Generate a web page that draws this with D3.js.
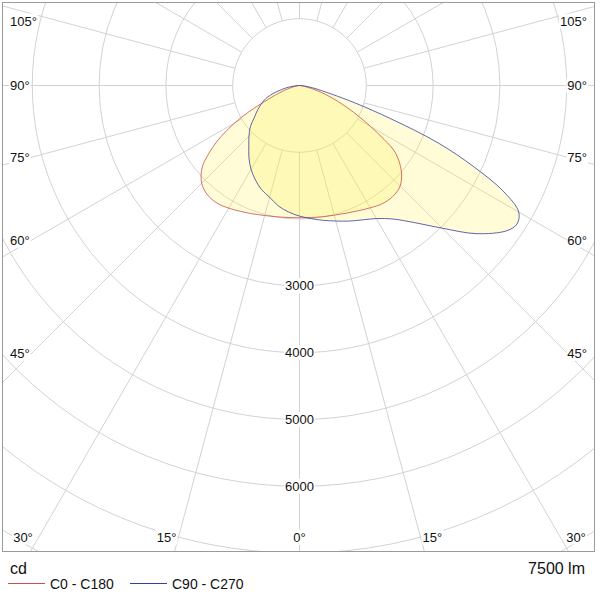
<!DOCTYPE html>
<html><head><meta charset="utf-8">
<script src="https://cdn.jsdelivr.net/npm/d3@7"></script>
<style>html,body{margin:0;padding:0;background:#fff;}svg{display:block;font-family:"Liberation Sans",Arial,sans-serif;}</style>
</head><body><svg id="c" width="600" height="597"></svg>
<script>
// ---- data ----
const gammas = [0,5,10,15,20,25,30,35,40,45,50,55,57.5,60,62.5,65,67.5,70,72.5,75,80,85,90];
const c0   = [1980,1985,1995,2010,2035,2070,2115,2160,2170,2130,1990,1750,1500,1230,1000,800,620,470,340,220,80,20,0];
const c180 = [1980,1985,1995,2015,2045,2080,2120,2150,2140,2070,1900,1560,1350,1120,860,600,430,320,230,150,60,15,0];
const c90  = [1955,2000,2050,2100,2160,2220,2300,2440,2680,3020,3450,3790,3860,3790,3450,2880,2250,1450,880,500,200,50,0];
const c270 = [1955,1900,1830,1730,1660,1560,1450,1320,1180,1070,960,820,770,720,670,620,570,510,430,350,200,70,0];
const circleValues = [1000,2000,3000,4000,5000,6000,7000,8000,9000];
const valueLabels = [3000,4000,5000,6000];
const angleTicks = [0,15,30,45,60,75,90,105];
const seriesNames = ["C0 - C180","C90 - C270"];
const seriesColors = ["#c8504a","#3a3f9a"];
const unitText = "cd";
const fluxText = "7500 lm";

// ---- layout ----
const svg = d3.select("#c");
const cx = 299.5, cy = 85.5;
const frame = {x0:2.5, y0:2.5, x1:594.5, y1:551.5};
const r = d3.scaleLinear().domain([0,1000]).range([0,66.8]);
const rad = d => d*Math.PI/180;

svg.append("defs").append("clipPath").attr("id","clip")
  .append("rect").attr("x",frame.x0).attr("y",frame.y0)
  .attr("width",frame.x1-frame.x0).attr("height",frame.y1-frame.y0);

const grid = svg.append("g").attr("clip-path","url(#clip)");
const gridColor = "#d2d2d2";
grid.selectAll("circle.g").data(circleValues).join("circle")
  .attr("cx",cx).attr("cy",cy).attr("r",d=>r(d))
  .attr("fill","none").attr("stroke",gridColor).attr("stroke-width",1);
const spokes = d3.range(0,360,15);
grid.selectAll("line.s").data(spokes).join("line")
  .attr("x1",a=>cx+r(1000)*Math.sin(rad(a)))
  .attr("y1",a=>cy+r(1000)*Math.cos(rad(a)))
  .attr("x2",a=>cx+r(12000)*Math.sin(rad(a)))
  .attr("y2",a=>cy+r(12000)*Math.cos(rad(a)))
  .attr("stroke",gridColor).attr("stroke-width",1);

// ---- curves ----
function pts(right,left){
  const p=[];
  for(let i=gammas.length-1;i>=0;i--) p.push([Math.PI+rad(gammas[i]), left[i]]);
  for(let i=1;i<gammas.length-1;i++) p.push([Math.PI-rad(gammas[i]), right[i]]);
  return p;
}
const line = d3.lineRadial().angle(d=>d[0]).radius(d=>r(d[1])).curve(d3.curveCatmullRomClosed.alpha(0.5));
const series = [pts(c0,c180), pts(c90,c270)];
const plot = svg.append("g").attr("transform",`translate(${cx},${cy})`);
plot.selectAll("path.f").data(series).join("path")
  .attr("d",line).attr("fill","#fff04a").attr("fill-opacity",0.22).attr("stroke","none");
plot.selectAll("path.l").data(series).join("path")
  .attr("d",line).attr("fill","none").attr("stroke",(d,i)=>seriesColors[i]).attr("stroke-width",0.8);

// ---- labels with white background ----
function label(x,y,txt,anchor,size){
  const g = svg.append("g");
  const rect = g.append("rect").attr("fill","#fff");
  const t = g.append("text").attr("x",x).attr("y",y).attr("text-anchor",anchor)
    .attr("dominant-baseline","central").attr("font-size",size).attr("fill","#111").text(txt);
  const b = t.node().getBBox();
  rect.attr("x",b.x-1).attr("y",b.y).attr("width",b.width+2).attr("height",b.height);
}
valueLabels.forEach(v=>label(cx, cy+r(v), String(v), "middle", 13));
angleTicks.forEach(a=>{
  const sides = a===0 ? [1] : [-1,1];
  sides.forEach(s=>{
    if(a>=45){
      const dx = 268;
      let y = cy + dx/Math.tan(rad(a));
      y = Math.max(21, Math.min(537, y));
      if(s<0) label(10, y, a+"°", "start", 13);
      else label(587, y, a+"°", "end", 13);
    } else {
      const dy = 496;
      let x = cx + s*dy*Math.tan(rad(a));
      x = Math.max(23, Math.min(576, x));
      label(x, 537, a+"°", "middle", 13);
    }
  });
});

// frame
svg.append("rect").attr("x",frame.x0).attr("y",frame.y0)
  .attr("width",frame.x1-frame.x0).attr("height",frame.y1-frame.y0)
  .attr("fill","none").attr("stroke","#9a9a9a").attr("stroke-width",1);

// footer
svg.append("text").attr("x",10).attr("y",574).attr("font-size",16).attr("fill","#111").text(unitText);
svg.append("text").attr("x",585).attr("y",574).attr("text-anchor","end").attr("font-size",16).attr("fill","#111").text(fluxText);
const legX = [8,130];
seriesNames.forEach((n,i)=>{
  svg.append("line").attr("x1",legX[i]).attr("x2",legX[i]+37).attr("y1",583.5).attr("y2",583.5)
    .attr("stroke",seriesColors[i]).attr("stroke-width",1);
  svg.append("text").attr("x",legX[i]+42).attr("y",589).attr("font-size",14).attr("fill","#111").text(n);
});
</script></body></html>
